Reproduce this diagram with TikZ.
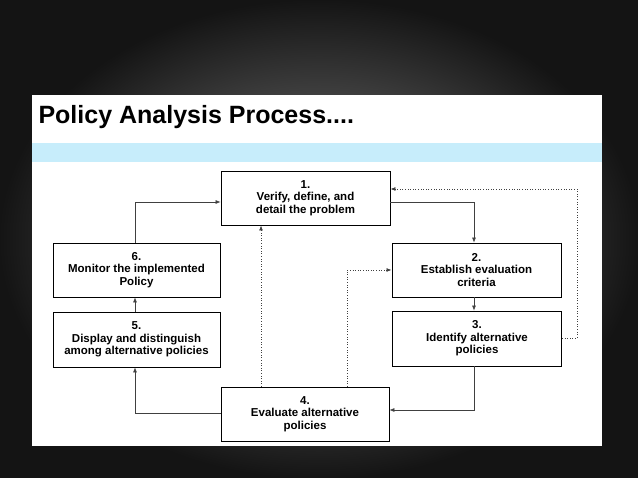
\documentclass[tikz,border=0pt]{standalone}
\usepackage{fontspec}
\setmainfont{Liberation Sans}
\usetikzlibrary{arrows.meta}
\begin{document}
\begin{tikzpicture}[x=1pt,y=-1pt,
  box/.style={draw=black,line width=0.9pt,fill=white,align=center,font=\bfseries\fontsize{11.5}{12.5}\selectfont,inner sep=0pt},
  ln/.style={draw=black!75,line width=0.6pt,-{Latex[length=5pt,width=4pt]}},
  dl/.style={ln,dotted,line width=0.8pt}]
\useasboundingbox (0,0) rectangle (638,478);
\shade[inner color=black!50,outer color=black!92] (0,0) rectangle (638,478);
\fill[white] (32,95) rectangle (602,446);
\fill[cyan!22] (32,143) rectangle (602,162);
\node[anchor=west,font=\bfseries\fontsize{25}{28}\selectfont] (title) at (35,117) {Policy Analysis Process....};
\node[box,minimum width=169,minimum height=54] (b1) at (305.5,198) {1.\\Verify, define, and\\detail the problem};
\node[box,minimum width=169,minimum height=54] (b2) at (476.5,270) {2.\\Establish evaluation\\criteria};
\node[box,minimum width=169,minimum height=55] (b3) at (477,338.5) {3.\\Identify alternative\\policies};
\node[box,minimum width=168,minimum height=54] (b4) at (305,414) {4.\\Evaluate alternative\\policies};
\node[box,minimum width=167,minimum height=55] (b5) at (136.5,339.5) {5.\\Display and distinguish\\among alternative policies};
\node[box,minimum width=167,minimum height=54] (b6) at (136.5,270) {6.\\Monitor the implemented\\Policy};
\coordinate (c1) at (474,202);
\coordinate (c2) at (474,410);
\coordinate (c3) at (577,338);
\coordinate (c4) at (577,189);
\coordinate (c5) at (347,270);
\coordinate (c6) at (135,413);
\coordinate (c7) at (135,202);
\draw[ln] (b1.east |- c1) -- (c1) -- (b2.north -| c1);
\draw[ln] (b2.south -| c1) -- (b3.north -| c1);
\draw[ln] (b3.south -| c2) -- (c2) -- (b4.east |- c2);
\draw[dl] (b3.east |- c3) -- (c3) -- (c4) -- (b1.east |- c4);
\draw[dl] (b4.north -| 261,0) -- (b1.south -| 261,0);
\draw[dl] (b4.north -| c5) -- (c5) -- (b2.west |- c5);
\draw[ln] (b4.west |- c6) -- (c6) -- (b5.south -| c6);
\draw[ln] (b5.north -| c6) -- (b6.south -| c6);
\draw[ln] (b6.north -| c7) -- (c7) -- (b1.west |- c7);
\end{tikzpicture}
\end{document}
